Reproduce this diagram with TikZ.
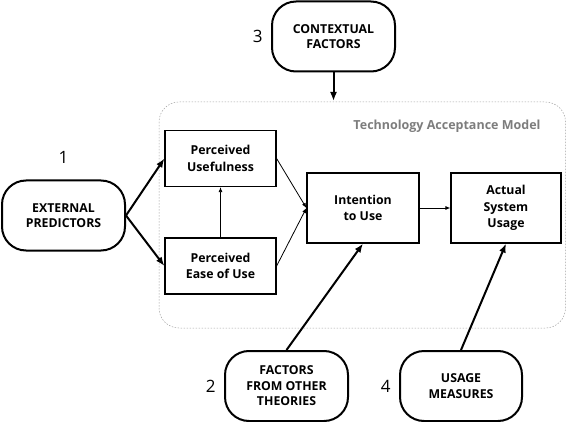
\documentclass[tikz,border=0pt]{standalone}
\usepackage{fontspec}
\setmainfont{Open Sans}
\usepackage{tikz}
\usetikzlibrary{arrows.meta, positioning, calc}
\definecolor{frame}{RGB}{160,160,160}
\definecolor{caption}{RGB}{125,125,125}

\begin{document}
\begin{tikzpicture}[x=1pt, y=-1pt,
  factor/.style={draw, line width=2pt, rounded corners=24pt, minimum width=123pt, minimum height=70pt, align=center, inner sep=0pt, font=\bfseries\fontsize{12.3}{15.5}\selectfont},
  construct/.style={draw, line width=1.2pt, minimum width=111pt, minimum height=56pt, align=center, inner sep=0pt, font=\bfseries\fontsize{12.3}{16.5}\selectfont},
  num/.style={font=\fontsize{17}{17}\selectfont},
  strong/.style={line width=2pt, -{Latex[length=9pt, width=7pt]}},
  weak/.style={line width=0.8pt, -{Latex[length=5pt, width=4pt]}}]
  \useasboundingbox (0,0) rectangle (567,422);

  % model frame
  \draw[frame, line width=0.5pt, dash pattern=on 1.5pt off 1.5pt, rounded corners=20pt] (159,102) rectangle (565.5,328);
  \node[anchor=east, text=caption, font=\bfseries\fontsize{12.5}{14}\selectfont] (tam) at (544,126) {Technology Acceptance Model};

  % TAM constructs
  \node[construct] (pu) at (220.5,158.5) {Perceived\\Usefulness};
  \node[construct] (peou) at (220.5,266) {Perceived\\Ease of Use};
  \node[construct, minimum width=112pt, minimum height=70pt] (itu) at (363,208) {Intention\\to Use};
  \node[construct, minimum width=110pt, minimum height=70pt] (asu) at (506,208) {Actual\\System\\Usage};

  % outside factors
  \node[factor] (ep) at (63.5,215.5) {EXTERNAL\\PREDICTORS};
  \node[factor] (cf) at (333.5,36.5) {CONTEXTUAL\\FACTORS};
  \node[factor] (ft) at (286.5,386) {FACTORS\\FROM OTHER\\THEORIES};
  \node[factor, minimum width=122pt] (um) at (461,386) {USAGE\\MEASURES};
  \coordinate (tamtop) at (333.5,101);

  \node[num, above=12pt of ep] (n1) {1};
  \node[num, left=5pt of ft] (n2) {2};
  \node[num, left=5pt of cf] (n3) {3};
  \node[num, left=5pt of um] (n4) {4};

  \draw[strong] (ep.east) -- (pu.west);
  \draw[strong] (ep.east) -- (peou.west);
  \draw[weak] (peou.north) -- (pu.south);
  \draw[weak] (pu.east) -- (itu.west);
  \draw[weak] (peou.east) -- (itu.west);
  \draw[weak] (itu.east) -- (asu.west);
  \draw[strong] (cf.south) -- (tamtop);
  \draw[strong] (ft.north) -- (itu.south);
  \draw[strong] (um.north) -- (asu.south);
\end{tikzpicture}
\end{document}
